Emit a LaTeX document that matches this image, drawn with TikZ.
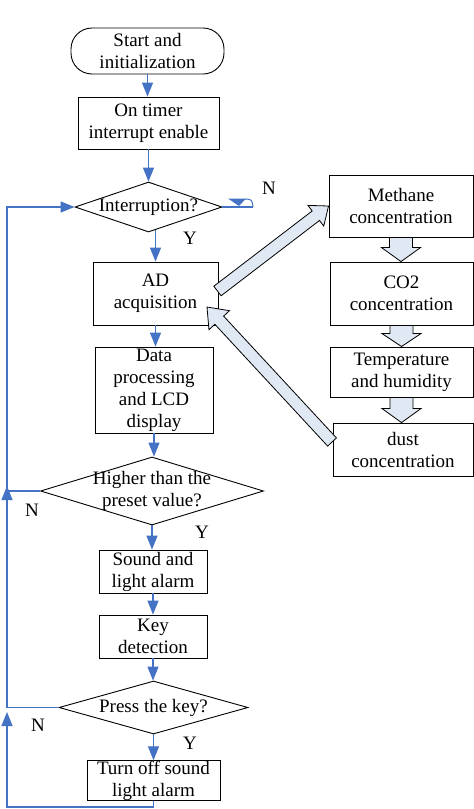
\documentclass[tikz,border=0pt]{standalone}
\usepackage{fontspec}
\setmainfont{Liberation Serif}
\usetikzlibrary{arrows.meta,calc,shapes.geometric}
\definecolor{fblue}{RGB}{68,114,196}
\definecolor{lblue}{RGB}{224,232,244}
\newcommand\blockarrow[5]{%
  \draw[barrow] let \p1=($(#2)-(#1)$), \n2={atan2(\y1,\x1)}, \n1={veclen(\x1,\y1)} in
   ($(#1)+(\n2+90:#3)$) -- ($(#1)+(\n2:\n1-#5)+(\n2+90:#3)$)
   -- ($(#1)+(\n2:\n1-#5)+(\n2+90:#4)$) -- (#2)
   -- ($(#1)+(\n2:\n1-#5)+(\n2-90:#4)$) -- ($(#1)+(\n2:\n1-#5)+(\n2-90:#3)$)
   -- ($(#1)+(\n2-90:#3)$) -- cycle;}
\tikzset{
  x=1pt,y=1pt,
  txt/.style={font=\fontsize{19pt}{22pt}\selectfont, align=center},
  box/.style={txt, draw=black, line width=0.9pt, rectangle, inner sep=0pt},
  term/.style={box, rounded corners=21pt},
  dia/.style={draw=black, line width=0.9pt, diamond, inner sep=0pt},
  flow/.style={draw=fblue, line width=1.2pt, -{Triangle[length=14pt,width=11pt]}},
  bline/.style={draw=fblue, line width=1.2pt},
  barrow/.style={draw=black, line width=0.8pt, fill=lblue, line join=miter},
  lab/.style={font=\fontsize{19pt}{22pt}\selectfont, inner sep=0pt}
}
\begin{document}
\begin{tikzpicture}
\useasboundingbox[fill=white] (0,0) rectangle (474,-809);
% left column
\node[term, minimum width=153pt, minimum height=46pt] (start) at (147.5,-51) {Start and\\initialization};
\node[box, minimum width=141pt, minimum height=52pt] (timer) at (148.5,-123) {On timer\\interrupt enable};
\node[dia, minimum width=147pt, minimum height=50pt, label={[txt]center:Interruption?}] (int) at (148.5,-207) {};
\node[box, minimum width=125pt, minimum height=63pt] (ad) at (155.5,-293.5) {AD\\acquisition};
\node[box, minimum width=118pt, minimum height=86pt] (data) at (154,-390) {Data\\processing\\and LCD\\display};
\node[dia, minimum width=223pt, minimum height=68pt, label={[txt]center:Higher than the\\preset value?}] (hi) at (152,-491) {};
\node[box, minimum width=108pt, minimum height=43pt] (sound) at (153,-571.5) {Sound and\\light alarm};
\node[box, minimum width=108pt, minimum height=43pt] (key) at (153,-636.5) {Key\\detection};
\node[dia, minimum width=189pt, minimum height=53pt, label={[txt]center:Press the key?}] (press) at (153.5,-707.5) {};
\node[box, minimum width=133pt, minimum height=39pt] (off) at (153.5,-780.5) {Turn off sound\\light alarm};
% right column
\node[box, minimum width=144pt, minimum height=62pt] (meth) at (401,-206) {Methane\\concentration};
\node[box, minimum width=143pt, minimum height=63pt] (co2) at (401.5,-293.5) {CO2\\concentration};
\node[box, minimum width=143pt, minimum height=50pt] (temp) at (401.5,-372) {Temperature\\and humidity};
\node[box, minimum width=140pt, minimum height=53pt] (dust) at (403,-449.5) {dust\\concentration};
% labels
\node[lab] (n1) at (269,-188) {N};
\node[lab] (y1) at (190,-238) {Y};
\node[lab] (n2) at (32,-510) {N};
\node[lab] (y2) at (202,-532) {Y};
\node[lab] (n3) at (38,-725) {N};
\node[lab] (y3) at (190,-743) {Y};
% main flow
\draw[flow] (start.south) -- (start.south |- timer.north);
\draw[flow] (timer.south) -- (timer.south |- int.north);
\coordinate (intb) at ($(int.south)+(7,2.4)$);
\draw[flow] (intb) -- (intb |- ad.north);
\draw[flow] (ad.south) -- (ad.south |- data.north);
\draw[flow] (data.south) -- (data.south |- hi.north);
\draw[flow] (hi.south) -- (hi.south |- sound.north);
\draw[flow] (sound.south) -- (key.north);
\draw[flow] (key.south) -- (key.south |- press.north);
\draw[flow] (press.south) -- (press.south |- off.north);
% loop back
\coordinate (ob) at (153.5,-807);
\coordinate (lb) at (7,-807);
\coordinate (lp) at (7,-707.5);
\coordinate (lh) at (7,-491);
\coordinate (lt) at (7,-207);
\draw[flow] (off.south) -- (ob) -- (lb) -- ($(lp)+(0,-4.5)$);
\draw[flow] (press.west) -- (lp) -- ($(lh)+(0,5)$);
\draw[flow] (hi.west) -- (lh) -- (lt) -- (int.west);
% N branch of interruption
\coordinate (nr) at (253,-207);
\draw[bline] (int.east) -- (nr);
\fill[fblue] (228,-198.5) -- (246,-198.5) -- (239,-206) -- cycle;
\draw[fblue, line width=1pt] (245,-199) .. controls (252,-199.5) .. (nr);
% block arrows
\coordinate (mt) at ($(ad.east)+(-1,2.5)$);
\coordinate (dt) at ($(dust.west)+(-0.5,7.5)$);
\coordinate (at) at (207,-307);
\blockarrow{mt}{meth.west}{6pt}{13pt}{16pt}
\blockarrow{dt}{at}{6pt}{14pt}{18pt}
\blockarrow{meth.south}{meth.south |- co2.north}{11.5pt}{19.5pt}{14pt}
\blockarrow{co2.south}{co2.south |- temp.north}{11.5pt}{19.5pt}{13pt}
\blockarrow{temp.south}{temp.south |- dust.north}{11.5pt}{19.5pt}{14pt}
\end{tikzpicture}
\end{document}
